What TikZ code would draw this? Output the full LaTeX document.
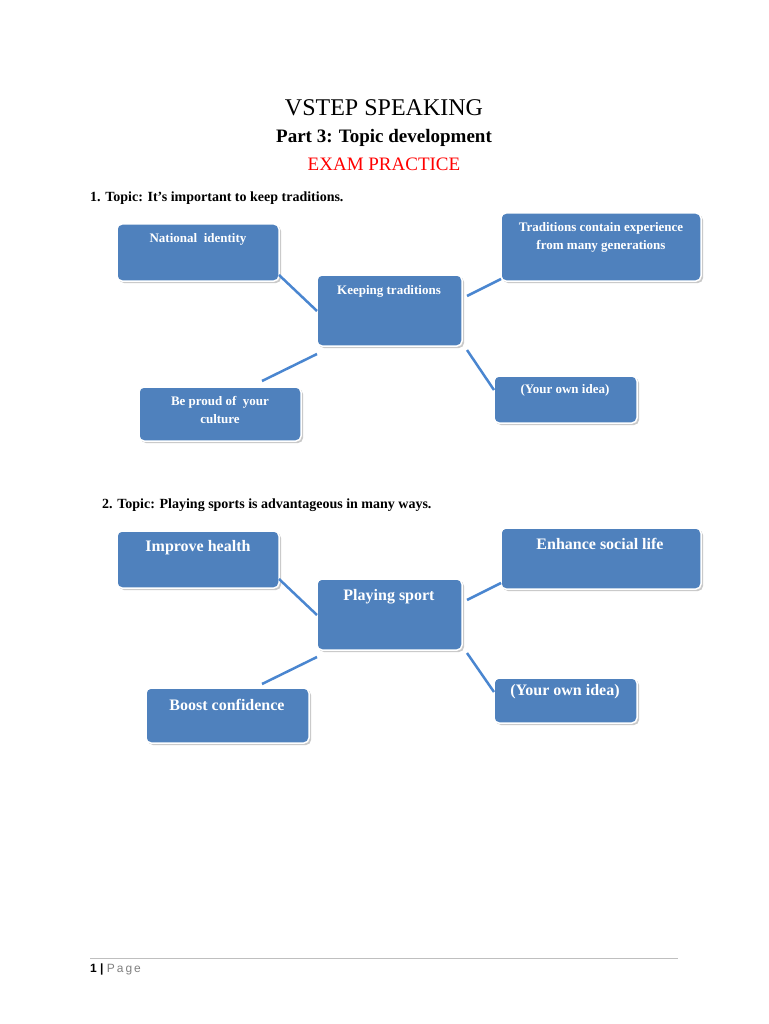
\documentclass[tikz,border=0pt]{standalone}
\usepackage{fontspec}
\setmainfont{Liberation Serif}
\newfontfamily\pgsans{Liberation Sans}
\usetikzlibrary{shadows}
\definecolor{boxblue}{HTML}{4F81BD}
\definecolor{lineblue}{HTML}{4A86D0}
\begin{document}
\begin{tikzpicture}[x=1pt,y=-1pt,
 box/.style={draw=white,line width=1.5pt,fill=boxblue,rounded corners=5pt,
   drop shadow={shadow xshift=2pt,shadow yshift=-2pt,fill=black!35,opacity=0.6}},
 t/.style={text=white,font=\bfseries\fontsize{13}{18}\selectfont,align=center},
 tb/.style={text=white,font=\bfseries\fontsize{16}{20}\selectfont,align=center},
 con/.style={draw=lineblue,line width=2.5pt}]
\useasboundingbox (0,0) rectangle (768,1024);
\node (title) at (384,108) {\fontsize{24}{28}\selectfont VSTEP SPEAKING};
\node (part) at (384,138) {\bfseries\fontsize{19}{22}\selectfont Part 3: Topic development};
\node[text=red] (exam) at (384,164) {\fontsize{19}{22}\selectfont EXAM PRACTICE};
\node[anchor=west,inner sep=0] (t1) at (90,198) {\bfseries\fontsize{14}{16}\selectfont 1. Topic: It’s important to keep traditions.};
\node[anchor=west,inner sep=0] (t2) at (102,505) {\bfseries\fontsize{14}{16}\selectfont 2. Topic: Playing sports is advantageous in many ways.};
% section 1
\draw[box] (117,224) rectangle (279,281);
\node[t] (a1) at (198,239) {National\ \ identity};
\draw[box] (317,275) rectangle (462,346);
\node[t] (b1) at (389,291) {Keeping traditions};
\draw[box] (501,213) rectangle (701,281);
\node[t] (c1) at (601,237) {Traditions contain experience\\from many generations};
\draw[box] (139,387) rectangle (301,441);
\node[t] (d1) at (220,410) {Be proud of\ \ your\\culture};
\draw[box] (494,376) rectangle (637,423);
\node[t] (e1) at (565,390) {(Your own idea)};
\coordinate (p1) at (279,275); \coordinate (p2) at (317,311);
\coordinate (p3) at (317,354); \coordinate (p4) at (262,381);
\coordinate (p5) at (467,296); \coordinate (p6) at (501,279);
\coordinate (p7) at (467,350); \coordinate (p8) at (494,390);
\draw[con] (p1)--(p2); \draw[con] (p3)--(p4); \draw[con] (p5)--(p6); \draw[con] (p7)--(p8);
% section 2
\draw[box] (117,531) rectangle (279,588);
\node[tb] (a2) at (198,548) {Improve health};
\draw[box] (317,579) rectangle (462,650);
\node[tb] (b2) at (389,597) {Playing sport};
\draw[box] (501,528) rectangle (701,589);
\node[tb] (c2) at (600,544) {Enhance social life};
\draw[box] (146,688) rectangle (309,743);
\node[tb] (d2) at (227,705) {Boost confidence};
\draw[box] (494,678) rectangle (637,723);
\node[tb] (e2) at (565,692) {(Your own idea)};
\coordinate (q1) at (279,579); \coordinate (q2) at (317,615);
\coordinate (q3) at (317,657); \coordinate (q4) at (262,684);
\coordinate (q5) at (467,600); \coordinate (q6) at (501,583);
\coordinate (q7) at (467,653); \coordinate (q8) at (494,692);
\draw[con] (q1)--(q2); \draw[con] (q3)--(q4); \draw[con] (q5)--(q6); \draw[con] (q7)--(q8);
% footer
\coordinate (f1) at (90,958); \coordinate (f2) at (678,958);
\draw[black!25,line width=0.6pt] (f1)--(f2);
\node[anchor=west,inner sep=0] (pg) at (90,969) {\pgsans\fontsize{12}{14}\selectfont\textbf{1 |} \textcolor{black!50}{P\,a\,g\,e}};
\end{tikzpicture}
\end{document}
